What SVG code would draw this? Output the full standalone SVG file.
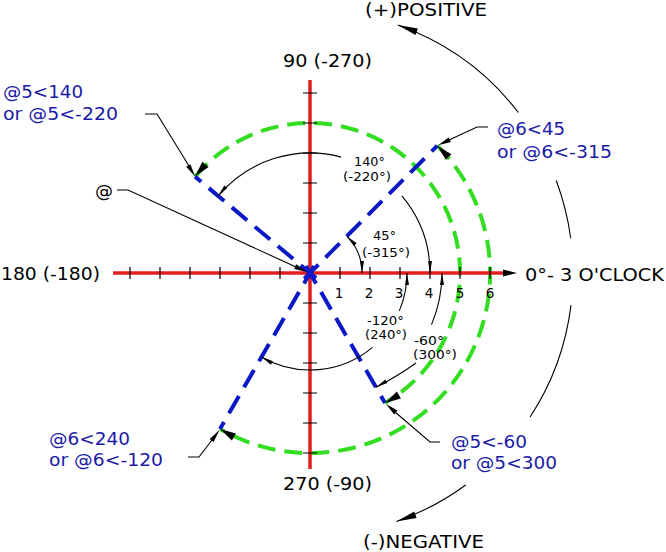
<svg xmlns="http://www.w3.org/2000/svg" width="666" height="552" viewBox="0 0 666 552">
<style>
.axis{stroke:#e41e1e;stroke-width:3.5;fill:none}
.tick{stroke:#000;stroke-width:1.2;fill:none}
.green{stroke:#33dd22;stroke-width:4;fill:none;stroke-dasharray:18 9}
.blue{stroke:#0a18c8;stroke-width:4;fill:none;stroke-dasharray:20 10}
.thin{stroke:#000;stroke-width:1.1;fill:none}
.ah{fill:#000;stroke:none}
.big{font-family:"DejaVu Sans",Verdana,sans-serif;font-size:18px;fill:#000}
.lbl{font-family:"DejaVu Sans",Verdana,sans-serif;font-size:18px;fill:#1a1aa8}
.sm{font-family:"DejaVu Sans",Verdana,sans-serif;font-size:13px;fill:#000}
.num{font-family:"DejaVu Sans",Verdana,sans-serif;font-size:13.5px;fill:#000;text-anchor:middle}
</style>

<g id="outer-arcs">
<path class="thin" d="M518.4,112.5 A263,263 0 0 0 397.8,25.1"/>
<polygon class="ah" points="397.8,25.1 417.9,28.5 415.5,35.1"/>
<path class="thin" d="M556.2,180.5 A263,263 0 0 1 570.7,238.2"/>
<path class="thin" d="M571,305.1 A263,263 0 0 1 530.1,417"/>
<path class="thin" d="M465.7,485 A263,263 0 0 1 396.5,521.4"/>
<polygon class="ah" points="396.5,521.4 414.2,511.5 416.6,518.1"/>
</g>

<g id="circles">
<path class="green" d="M195.1,176.6 A150,150 0 1 1 385,402.9"/>
<path class="green" d="M437.3,145.7 A180,180 0 0 1 220,428.9"/>
</g>

<g id="axes">
<line class="axis" x1="113" y1="273" x2="504" y2="273"/>
<line class="axis" x1="310" y1="80" x2="310" y2="469"/>
<polygon class="ah" points="517,273 503,269.5 503,276.5"/>
<path class="tick" d="M130,267V279M160,267V279M190,267V279M220,267V279M250,267V279M280,267V279M340,267V279M370,267V279M400,267V279M430,267V279M460,267V279M490,267V279"/>
<path class="tick" d="M303,93H317M303,123H317M303,153H317M303,183H317M303,213H317M303,243H317M303,303H317M303,333H317M303,363H317M303,393H317M303,423H317M303,453H317"/>
<text class="num" x="339" y="298">1</text>
<text class="num" x="369" y="298">2</text>
<text class="num" x="399" y="298">3</text>
<text class="num" x="429" y="298">4</text>
<text class="num" x="460" y="298">5</text>
<text class="num" x="490" y="298">6</text>
</g>

<g id="vectors">
<path class="blue" d="M316.1,278.1 L195.1,176.6"/>
<path class="blue" d="M304.3,278.7 L437.3,145.7"/>
<path class="blue" d="M306,266.1 L385,402.9"/>
<path class="blue" d="M314,266.1 L220,428.9"/>
</g>

<g id="end-marks">
<polygon class="ah" points="195.1,176.6 208.5,166.9 202.3,161.7"/>
<polygon class="ah" points="437.3,145.7 445.8,159.8 451.4,154.2"/>
<polygon class="ah" points="385,402.9 400.9,398.4 396.9,391.4"/>
<polygon class="ah" points="220,428.9 231.9,440.4 235.9,433.4"/>
</g>

<g id="dim-140">
<path class="thin" d="M218.1,195.9 A120,120 0 0 1 341.1,157.1"/>
<path class="thin" d="M401.9,195.9 A120,120 0 0 1 430,273"/>
<polygon class="ah" points="430,273 428,261 432,261"/>
<polygon class="ah" points="218.1,195.9 224.3,185.4 227.3,188"/>
<text class="sm" x="354" y="166" textLength="31" lengthAdjust="spacingAndGlyphs">140°</text>
<text class="sm" x="343" y="181" textLength="48" lengthAdjust="spacingAndGlyphs">(-220°)</text>
</g>

<g id="dim-45">
<path class="thin" d="M362,273 A52,52 0 0 0 346.8,236.2"/>
<polygon class="ah" points="362,273 360,261 364,261"/>
<polygon class="ah" points="346.8,236.2 356.7,243.3 353.9,246.1"/>
<text class="sm" x="373" y="240" textLength="23" lengthAdjust="spacingAndGlyphs">45°</text>
<text class="sm" x="362" y="257" textLength="48" lengthAdjust="spacingAndGlyphs">(-315°)</text>
</g>

<g id="dim-minus120">
<path class="thin" d="M407,273 A97,97 0 0 1 399.3,310.9"/>
<path class="thin" d="M372.4,347.3 A97,97 0 0 1 261.5,357"/>
<polygon class="ah" points="407,273 405,285 409,285"/>
<polygon class="ah" points="261.5,357 272.9,361.3 270.9,364.7"/>
<text class="sm" x="367" y="325" textLength="37" lengthAdjust="spacingAndGlyphs">-120°</text>
<text class="sm" x="365" y="339" textLength="42" lengthAdjust="spacingAndGlyphs">(240°)</text>
</g>

<g id="dim-minus60">
<path class="thin" d="M442,273 A132,132 0 0 1 431.5,324.6"/>
<path class="thin" d="M416,363 Q398,376 376,387.3"/>
<polygon class="ah" points="376,387.3 385.4,379.6 387.4,383"/>
<polygon class="ah" points="442,273 440,285 444,285"/>
<text class="sm" x="414" y="345" textLength="30" lengthAdjust="spacingAndGlyphs">-60°</text>
<text class="sm" x="413" y="359" textLength="44" lengthAdjust="spacingAndGlyphs">(300°)</text>
</g>

<g id="leaders">
<path class="thin" d="M145,114 H157 L189,166"/>
<polygon class="ah" points="195.1,176.6 186.2,166.8 190.4,164.2"/>
<path class="thin" d="M117,190 H128 L296,267"/>
<polygon class="ah" points="307,272 294.2,268.9 296.2,264.3"/>
<path class="thin" d="M488,127 H477 L449,140"/>
<polygon class="ah" points="438,145.3 448.7,137.5 450.9,142.1"/>
<path class="thin" d="M440,442 H430 L395,412"/>
<polygon class="ah" points="386,404 397.4,410.6 394.2,414.4"/>
<path class="thin" d="M188,457 H199 L212,440"/>
<polygon class="ah" points="219.5,430 213.6,441.9 209.6,438.9"/>
</g>

<g id="labels">
<text class="big" x="365" y="16" textLength="122" lengthAdjust="spacingAndGlyphs">(+)POSITIVE</text>
<text class="big" x="283" y="67" textLength="89" lengthAdjust="spacingAndGlyphs">90 (-270)</text>
<text class="big" x="1" y="280" textLength="99" lengthAdjust="spacingAndGlyphs">180 (-180)</text>
<text class="big" x="525" y="281" textLength="139" lengthAdjust="spacingAndGlyphs">0°- 3 O'CLOCK</text>
<text class="big" x="283" y="490" textLength="89" lengthAdjust="spacingAndGlyphs">270 (-90)</text>
<text class="big" x="363" y="548" textLength="121" lengthAdjust="spacingAndGlyphs">(-)NEGATIVE</text>
<text class="big" x="95" y="197">@</text>
</g>

<g id="node-p140">
<text class="lbl" x="3" y="98" textLength="80" lengthAdjust="spacingAndGlyphs">@5&lt;140</text>
<text class="lbl" x="3" y="120" textLength="115" lengthAdjust="spacingAndGlyphs">or @5&lt;-220</text>
</g>
<g id="node-p45">
<text class="lbl" x="497" y="135" textLength="68" lengthAdjust="spacingAndGlyphs">@6&lt;45</text>
<text class="lbl" x="497" y="158" textLength="115" lengthAdjust="spacingAndGlyphs">or @6&lt;-315</text>
</g>
<g id="node-p240">
<text class="lbl" x="49" y="445" textLength="81" lengthAdjust="spacingAndGlyphs">@6&lt;240</text>
<text class="lbl" x="49" y="466" textLength="114" lengthAdjust="spacingAndGlyphs">or @6&lt;-120</text>
</g>
<g id="node-pm60">
<text class="lbl" x="451" y="448" textLength="76" lengthAdjust="spacingAndGlyphs">@5&lt;-60</text>
<text class="lbl" x="451" y="469" textLength="106" lengthAdjust="spacingAndGlyphs">or @5&lt;300</text>
</g>
</svg>
